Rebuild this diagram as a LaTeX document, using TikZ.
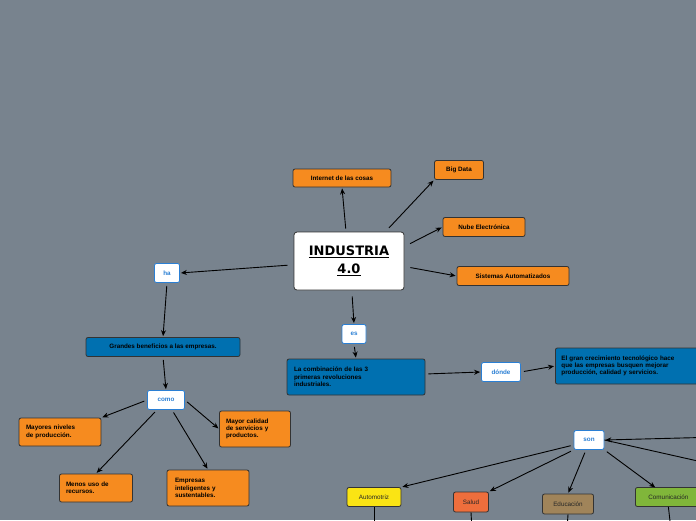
\documentclass[tikz,border=0pt]{standalone}
\usepackage{fontspec}
\setmainfont{Liberation Sans}
\newfontfamily\titlefont{DejaVu Sans}
\usetikzlibrary{arrows.meta}
\definecolor{bg}{HTML}{78838E}
\definecolor{org}{HTML}{F68B1F}
\definecolor{blu}{HTML}{0070B0}
\definecolor{lnk}{HTML}{2A7FD4}
\tikzset{
  x=1pt,y=-1pt,
  box/.style={draw=black!80,line width=0.8pt,rounded corners=2pt,font=\bfseries\fontsize{6.3}{7.3}\selectfont,text=black,inner sep=0pt},
  ob/.style={box,fill=org},
  bb/.style={box,fill=blu},
  lk/.style={draw=lnk,line width=0.8pt,fill=white,rounded corners=2pt,font=\bfseries\fontsize{6.3}{7.3}\selectfont,text=lnk,minimum height=19,inner sep=0pt},
  cat/.style={draw=black!80,line width=0.8pt,rounded corners=2pt,font=\fontsize{6.3}{7.3}\selectfont,text=black!85,inner sep=0pt,minimum height=19},
  ar/.style={-{Stealth[length=6pt,width=5pt]},line width=0.9pt,shorten <=3pt,shorten >=1pt},
  ln/.style={line width=0.9pt}
}
\begin{document}
\begin{tikzpicture}
\fill[bg] (0,0) rectangle (696,520);
\useasboundingbox (0,0) rectangle (696,520);
\clip (0,0) rectangle (696,520);
\node[draw=black!80,line width=0.8pt,fill=white,rounded corners=3pt,minimum width=110,minimum height=58,align=center,font=\bfseries\fontsize{13}{18}\selectfont] (ind) at (349,261) {\titlefont\underline{INDUSTRIA}\\\titlefont\underline{4.0}};
\node[ob,minimum width=98,minimum height=18] (iot) at (342,178) {Internet de las cosas};
\node[ob,minimum width=49,minimum height=19] (bd) at (459,170) {Big Data};
\node[ob,minimum width=82,minimum height=19] (nube) at (484,227) {Nube Electrónica};
\node[ob,minimum width=112,minimum height=19] (sis) at (513,276) {Sistemas Automatizados};
\node[lk,minimum width=25] (ha) at (167,273) {ha};
\node[lk,minimum width=24] (es) at (354,334) {es};
\node[bb,minimum width=154,minimum height=19] (gb) at (163,347) {Grandes beneficios a las empresas.};
\node[lk,minimum width=37] (como) at (166,400) {como};
\node[ob,minimum width=82,minimum height=28,align=left,text width=68] (may) at (60,432) {Mayores niveles\\de producción.};
\node[ob,minimum width=71,minimum height=36,align=left,text width=58] (cal) at (255,429) {Mayor calidad\\de servicios y\\productos.};
\node[ob,minimum width=73,minimum height=28,align=left,text width=60] (men) at (96,488) {Menos uso de\\recursos.};
\node[ob,minimum width=82,minimum height=36,align=left,text width=66] (emp) at (208,488) {Empresas\\inteligentes y\\sustentables.};
\node[bb,minimum width=138,minimum height=36,align=left,text width=124] (comb) at (356,377) {La combinación de las 3\\primeras revoluciones\\industriales.};
\node[lk,minimum width=39] (donde) at (501,372) {dónde};
\node[bb,minimum width=180,minimum height=36,align=left,text width=168,anchor=west] (gran) at (555,366) {El gran crecimiento tecnológico hace\\que las empresas busquen mejorar\\producción, calidad y servicios.};
\node[lk,minimum width=30] (son) at (589,440) {son};
\node[cat,fill={rgb,255:red,250;green,228;blue,20},minimum width=54] (aut) at (374,497) {Automotriz};
\node[cat,fill={rgb,255:red,238;green,110;blue,60},minimum width=35,minimum height=20] (sal) at (471,502) {Salud};
\node[cat,minimum width=51,minimum height=20,fill={rgb,255:red,160;green,132;blue,90}] (edu) at (568,504) {Educación};
\node[cat,fill={rgb,255:red,128;green,182;blue,58},minimum width=66,anchor=west] (comu) at (635,497) {Comunicación};
\coordinate (r1) at (720,437);
\coordinate (r2) at (720,466);
\coordinate (ct) at (656,488);
\coordinate (b1) at (374,530);
\coordinate (b2) at (472,530);
\coordinate (b3) at (567,530);
\coordinate (b4) at (671,530);
\draw[ar] (ind.north) ++(-3,0) -- (iot.south);
\draw[ar] (387,230) -- (bd.south west) ;
\draw[ar] (ind.east) ++(3,-16) -- (nube.west);
\draw[ar] (ind.east) ++(3,6) -- (sis.west);
\draw[ar] (ind.west) ++(-3,4) -- (ha.east);
\draw[ar] (ind.south) ++(3,3) -- (es.north);
\draw[ar] (ha.south) -- (gb.north);
\draw[ar] (gb.south) -- (como.north);
\draw[ar] (como.west) -- (may.north east);
\draw[ar] (como.east) -- (cal.west);
\draw[ar] (como.south) ++(-9,0) -- (men.north);
\draw[ar] (como.south) ++(6,0) -- (emp.north);
\draw[ar] (es.south) -- (comb.north);
\draw[ar] (comb.east) ++(0,-3) -- (donde.west);
\draw[ar] (donde.east) -- (gran.west);
\draw[ar,shorten <=0pt] (r1) -- (son.east);
\draw[ln] (r2) -- (son.east);
\draw[ar] (son.west) ++(0,5) -- (aut.north east);
\draw[ar] (son.south west) -- (sal.north east);
\draw[ar] (son.south) ++(-3,0) -- (edu.north);
\draw[ar] (son.south east) -- (ct);
\draw[ln] (aut.south) -- (b1);
\draw[ln] (sal.south) -- (b2);
\draw[ln] (edu.south) -- (b3);
\draw[ln] (comu.south) -- (b4);
\end{tikzpicture}
\end{document}
